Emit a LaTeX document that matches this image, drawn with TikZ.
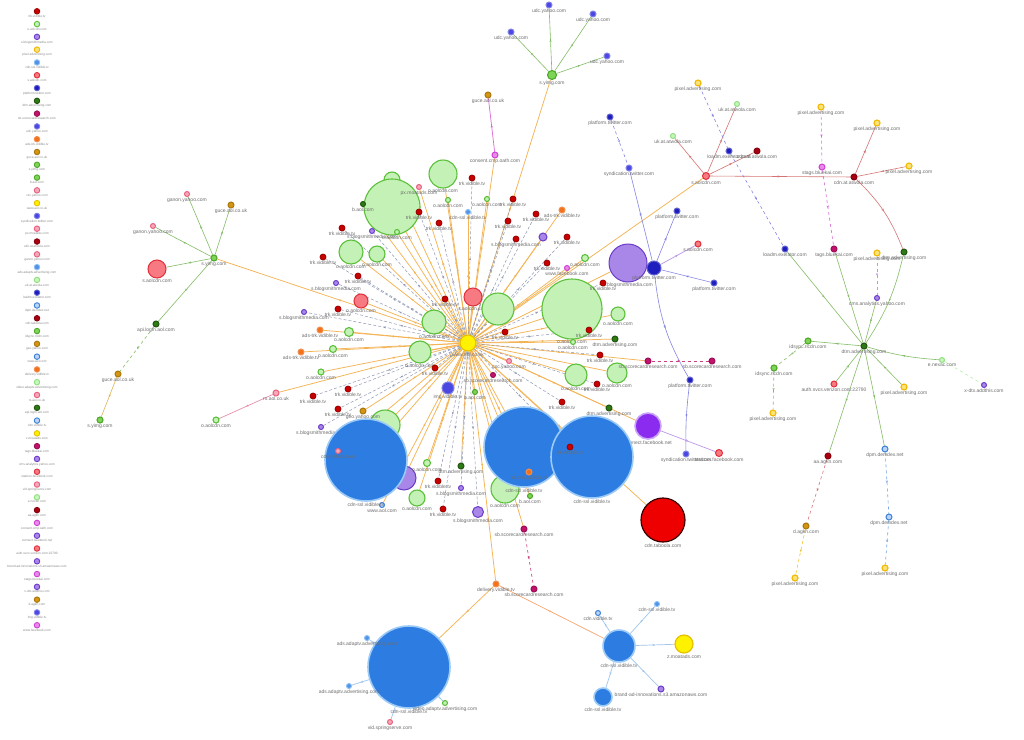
\documentclass[tikz,border=0pt]{standalone}
\usepackage{fontspec}
\setmainfont{Liberation Sans}
\usetikzlibrary{arrows.meta,decorations.markings}
\pgfdeclarelayer{bg}
\pgfdeclarelayer{edges}
\pgfsetlayers{bg,edges,main}
\definecolor{labelgray}{HTML}{6E6E6E}
\definecolor{cTrk}{HTML}{C80000}\definecolor{cTrkD}{HTML}{9A0000}
\definecolor{cGrnF}{HTML}{C4F2B6}\definecolor{cGrnD}{HTML}{5CC03A}
\definecolor{cPurF}{HTML}{A987E8}\definecolor{cPurD}{HTML}{6A3CC8}
\definecolor{cGoldF}{HTML}{FBE27A}\definecolor{cGoldD}{HTML}{F0B800}
\definecolor{cLBF}{HTML}{4F92E6}\definecolor{cLBD}{HTML}{8CC0F5}
\definecolor{cRedF}{HTML}{F77A82}\definecolor{cRedD}{HTML}{E0303C}
\definecolor{cTw}{HTML}{1E1EBE}
\definecolor{cDG}{HTML}{2E7A14}
\definecolor{cCr}{HTML}{C3126B}
\definecolor{cUdc}{HTML}{4A48E0}
\definecolor{cOr}{HTML}{F2711C}
\definecolor{cGuce}{HTML}{D39512}
\definecolor{cYimgF}{HTML}{7ED456}\definecolor{cYimgD}{HTML}{4FA82A}
\definecolor{cPinkF}{HTML}{F6A8B8}\definecolor{cPinkD}{HTML}{E8607E}
\definecolor{cYel}{HTML}{FFF200}\definecolor{cYelD}{HTML}{E6C000}
\definecolor{cVio}{HTML}{8A2BEF}\definecolor{cVioH}{HTML}{C9A6F7}
\definecolor{cTab}{HTML}{EE0000}\definecolor{cTabD}{HTML}{3A0000}
\definecolor{cMagF}{HTML}{E98AEA}\definecolor{cMag}{HTML}{D040D4}
\definecolor{cUkF}{HTML}{C8F5BE}\definecolor{cUk}{HTML}{8EE07E}
\definecolor{cBlue}{HTML}{2C7CE2}\definecolor{cBlueH}{HTML}{9CCAF7}
\definecolor{cDemF}{HTML}{B9D4F6}\definecolor{cDem}{HTML}{3C7FD8}
\definecolor{cAt}{HTML}{A80010}
\definecolor{eOrange}{HTML}{F4B455}
\definecolor{eGreen}{HTML}{84BC66}
\definecolor{eRed}{HTML}{D47474}
\definecolor{eBlue}{HTML}{8484E2}
\definecolor{eGray}{HTML}{8E98B2}
\definecolor{eLB}{HTML}{A0C6F0}
\definecolor{ePink}{HTML}{E890A8}
\definecolor{eVio}{HTML}{BC98E8}
\definecolor{eMag}{HTML}{D868D8}
\definecolor{eCr}{HTML}{C8407E}
\tikzset{
  nb/.style={circle,inner sep=0pt,line width=1pt,minimum size=6pt},
  lbl/.style={font=\fontsize{5}{5}\selectfont,text=labelgray,inner sep=0.6pt},
  lgl/.style={font=\fontsize{3.2}{3.2}\selectfont,text=labelgray!80,inner sep=0.4pt},
  midarr/.style={postaction={decorate},decoration={markings,mark=at position 0.5 with {\arrow{Stealth[length=2.6pt,width=2.2pt]}}}},
  eo/.style={draw=eOrange,line width=0.75pt,midarr},
  eg/.style={draw=eGreen,line width=0.6pt,midarr},
  er/.style={draw=eRed,line width=0.6pt,midarr},
  eb/.style={draw=eBlue,line width=0.6pt,midarr},
  ed/.style={draw=eGray,line width=0.5pt,dash pattern=on 3pt off 2pt,midarr},
  elb/.style={draw=eLB,line width=0.7pt,midarr},
  kTrk/.style={fill=cTrk,draw=cTrkD,line width=0.8pt},
  kGrn/.style={fill=cGrnF,draw=cGrnD,line width=1.1pt},
  kPur/.style={fill=cPurF,draw=cPurD},
  kGold/.style={fill=cGoldF,draw=cGoldD,line width=1.1pt},
  kLB/.style={fill=cLBF,draw=cLBD},
  kRed/.style={fill=cRedF,draw=cRedD},
  kTw/.style={fill=cTw,draw=cTw!70},
  kDG/.style={fill=cDG,draw=cDG!70!black},
  kCr/.style={fill=cCr,draw=cCr!80!black},
  kUdc/.style={fill=cUdc,draw=cUdc!70},
  kOr/.style={fill=cOr,draw=cOr!80},
  kGuce/.style={fill=cGuce,draw=cGuce!80!black},
  kYimg/.style={fill=cYimgF,draw=cYimgD,line width=1.1pt},
  kPink/.style={fill=cPinkF,draw=cPinkD},
  kYel/.style={fill=cYel,draw=cYelD,line width=1.2pt},
  kVio/.style={fill=cVio,draw=cVioH,line width=1.6pt},
  kTab/.style={fill=cTab,draw=cTabD,line width=1.2pt},
  kMag/.style={fill=cMagF,draw=cMag},
  kUk/.style={fill=cUkF,draw=cUk},
  kBig/.style={fill=cBlue,draw=cBlueH,line width=1.6pt},
  kDem/.style={fill=cDemF,draw=cDem},
  kAt/.style={fill=cAt,draw=cAt!80!black},
}
\newcommand\nd[6]{\node[nb,#5,minimum size=#4pt,label={[lbl]below:#6}] (#1) at (#2,#3) {};}
\newcommand\lgd[3]{\node[nb,#2,minimum size=5.5pt,line width=0.9pt,label={[lgl]below:#3}] (lg#1) at (37,{11.3+12.79*#1}) {};}
\begin{document}
\begin{tikzpicture}[x=1pt,y=-1pt]
\begin{pgfonlayer}{bg}
\fill[white] (0,0) rectangle (1024,739);
\end{pgfonlayer}
\useasboundingbox (0,0) rectangle (1024,739);
% ---------------- legend
\lgd{0}{kTrk}{trk.vidible.tv}
\lgd{1}{kGrn}{o.aolcdn.com}
\lgd{2}{kPur}{s.blogsmithmedia.com}
\lgd{3}{kGold}{pixel.advertising.com}
\lgd{4}{kLB}{cdn-ssl.vidible.tv}
\lgd{5}{kRed}{s.aolcdn.com}
\lgd{6}{kTw}{platform.twitter.com}
\lgd{7}{kDG}{dtm.advertising.com}
\lgd{8}{kCr}{sb.scorecardresearch.com}
\lgd{9}{kUdc}{udc.yahoo.com}
\lgd{10}{kOr}{ads-trk.vidible.tv}
\lgd{11}{kGuce}{guce.aol.co.uk}
\lgd{12}{kYimg}{s.yimg.com}
\lgd{13}{kYimg}{b.aol.com}
\lgd{14}{kPink}{csc.yahoo.com}
\lgd{15}{kYel}{www.aol.co.uk}
\lgd{16}{kUdc}{syndication.twitter.com}
\lgd{17}{kPink}{px.moatads.com}
\lgd{18}{kAt}{cdn.at.atwola.com}
\lgd{19}{kPink}{ganon.yahoo.com}
\lgd{20}{kLB}{ads.adaptv.advertising.com}
\lgd{21}{kUk}{uk.at.atwola.com}
\lgd{22}{kTw}{loadm.exelator.com}
\lgd{23}{kDem}{dpm.demdex.net}
\lgd{24}{kAt}{cdn.taboola.com}
\lgd{25}{kYimg}{idsync.rlcdn.com}
\lgd{26}{kGuce}{geo.yahoo.com}
\lgd{27}{kDem}{www.aol.com}
\lgd{28}{kOr}{delivery.vidible.tv}
\lgd{29}{kUk}{video.adaptv.advertising.com}
\lgd{30}{kPink}{rs.aol.co.uk}
\lgd{31}{kDG}{api.login.aol.com}
\lgd{32}{kDem}{cdn.vidible.tv}
\lgd{33}{kYel}{z.moatads.com}
\lgd{34}{kCr}{tags.bluekai.com}
\lgd{35}{kPur}{cms.analytics.yahoo.com}
\lgd{36}{kRed}{staticxx.facebook.com}
\lgd{37}{kPink}{vid.springserve.com}
\lgd{38}{kUk}{e.nexac.com}
\lgd{39}{kAt}{aa.agkn.com}
\lgd{40}{kMag}{consent.cmp.oath.com}
\lgd{41}{kPur}{connect.facebook.net}
\lgd{42}{kRed}{auth.svcs.verizon.com:22790}
\lgd{43}{kPur}{brand-ad-innovations.s3.amazonaws.com}
\lgd{44}{kMag}{stags.bluekai.com}
\lgd{45}{kPur}{x-dtx.addthis.com}
\lgd{46}{kGuce}{d.agkn.com}
\lgd{47}{kUdc}{img.vidible.tv}
\lgd{48}{kMag}{www.facebook.com}
% ---------------- nodes behind
\nd{gA}{392}{180}{16}{kGrn}{}
\nd{gBehind}{385}{425}{30}{kGrn}{}
\nd{puBehind}{404}{478}{24}{kPur}{}
\nd{g21}{505}{489}{28}{kGrn}{o.aolcdn.com}
% ---------------- hub cluster
\nd{gB}{392}{207}{56}{kGrn}{}
\nd{bdot}{363}{204}{5}{kDG}{b.aol.com}
\nd{gC}{443}{174}{28}{kGrn}{o.aolcdn.com}
\nd{pk1}{419}{187}{5}{kPink}{px.moatads.com}
\nd{r1}{472}{178}{6}{kTrk}{trk.vidible.tv}
\nd{g2}{448}{200}{5}{kGrn}{o.aolcdn.com}
\nd{g3}{487}{199}{5}{kGrn}{o.aolcdn.com}
\nd{r2}{513}{199}{6}{kTrk}{trk.vidible.tv}
\nd{bl1}{468}{212}{5}{kLB}{cdn-ssl.vidible.tv}
\nd{r3}{419}{212}{6}{kTrk}{trk.vidible.tv}
\nd{r4}{439}{223}{6}{kTrk}{trk.vidible.tv}
\nd{r5}{536}{214}{6}{kTrk}{trk.vidible.tv}
\nd{or1}{562}{210}{6}{kOr}{ads-trk.vidible.tv}
\nd{r6}{508}{221}{6}{kTrk}{trk.vidible.tv}
\nd{r7}{342}{228}{6}{kTrk}{trk.vidible.tv}
\nd{pu1}{372}{231}{5}{kPur}{s.blogsmithmedia.com}
\nd{g4}{397}{232}{5}{kGrn}{o.aolcdn.com}
\nd{g5}{351}{252}{24}{kGrn}{o.aolcdn.com}
\nd{g6}{377}{254}{16}{kGrn}{o.aolcdn.com}
\nd{r8}{516}{239}{6}{kTrk}{s.blogsmithmedia.com}
\nd{pu2}{543}{237}{8}{kPur}{}
\nd{r9}{567}{237}{6}{kTrk}{trk.vidible.tv}
\nd{g7}{585}{258}{7}{kGrn}{o.aolcdn.com}
\nd{r10}{323}{257}{6}{kTrk}{trk.vidible.tv}
\nd{r11}{547}{263}{6}{kTrk}{trk.vidible.tv}
\nd{mg1}{567}{268}{5}{kMag}{www.facebook.com}
\nd{puB}{628}{263}{38}{kPur}{s.blogsmithmedia.com}
\nd{r12}{358}{276}{6}{kTrk}{trk.vidible.tv}
\nd{pu3}{336}{283}{5}{kPur}{s.blogsmithmedia.com}
\nd{rB1}{361}{301}{14}{kRed}{o.aolcdn.com}
\nd{rB2}{473}{297}{18}{kRed}{s.aolcdn.com}
\nd{g8}{498}{309}{32}{kGrn}{}
\nd{gBig2}{572}{309}{60}{kGrn}{o.aolcdn.com}
\nd{r13}{445}{299}{6}{kTrk}{trk.vidible.tv}
\nd{r14}{338}{309}{6}{kTrk}{trk.vidible.tv}
\nd{pu4}{304}{312}{5}{kPur}{s.blogsmithmedia.com}
\nd{g9}{434}{322}{24}{kGrn}{o.aolcdn.com}
\nd{r15}{603}{283}{6}{kTrk}{trk.vidible.tv}
\nd{g10}{618}{314}{14}{kGrn}{o.aolcdn.com}
\nd{r16}{589}{330}{6}{kTrk}{trk.vidible.tv}
\nd{g11}{573}{342}{5}{kGrn}{o.aolcdn.com}
\nd{dg1}{615}{339}{6}{kDG}{dtm.advertising.com}
\nd{r17}{505}{332}{6}{kTrk}{trk.vidible.tv}
\nd{g12}{349}{332}{9}{kGrn}{o.aolcdn.com}
\nd{or2}{320}{330}{6}{kOr}{ads-trk.vidible.tv}
\nd{g13}{420}{352}{22}{kGrn}{o.aolcdn.com}
\nd{g14}{333}{349}{7}{kGrn}{o.aolcdn.com}
\nd{or3}{301}{352}{6}{kOr}{ads-trk.vidible.tv}
\nd{pk2}{509}{361}{5}{kPink}{csc.yahoo.com}
\nd{r18}{435}{368}{6}{kTrk}{trk.vidible.tv}
\nd{r19}{600}{355}{6}{kTrk}{trk.vidible.tv}
\nd{g15}{576}{375}{22}{kGrn}{o.aolcdn.com}
\nd{g16}{617}{373}{20}{kGrn}{o.aolcdn.com}
\nd{g17}{321}{372}{6}{kGrn}{o.aolcdn.com}
\nd{cr1}{493}{375}{5}{kCr}{sb.scorecardresearch.com}
\nd{r20}{348}{389}{6}{kTrk}{trk.vidible.tv}
\nd{r21}{313}{396}{6}{kTrk}{trk.vidible.tv}
\nd{bv1}{448}{388}{12}{kUdc}{img.vidible.tv}
\nd{g18}{475}{392}{5}{kYimg}{b.aol.com}
\nd{r22}{597}{384}{6}{kTrk}{trk.vidible.tv}
\nd{r23}{338}{409}{6}{kTrk}{trk.vidible.tv}
\nd{gd1}{363}{411}{6}{kGuce}{geo.yahoo.com}
\nd{pu5}{321}{427}{5}{kPur}{s.blogsmithmedia.com}
\nd{r24}{562}{402}{6}{kTrk}{trk.vidible.tv}
\nd{dg2}{609}{408}{6}{kDG}{dtm.advertising.com}
\nd{vi1}{648}{426}{26}{kVio}{connect.facebook.net}
\nd{g19}{427}{463}{7}{kGrn}{o.aolcdn.com}
\nd{dg3}{461}{466}{6}{kDG}{dtm.advertising.com}
\nd{r26}{438}{481}{6}{kTrk}{trk.vidible.tv}
\nd{pu6}{461}{488}{5}{kPur}{s.blogsmithmedia.com}
\nd{g20}{417}{498}{16}{kGrn}{o.aolcdn.com}
\nd{bl2}{382}{505}{5}{kDem}{www.aol.com}
\nd{r27}{443}{509}{6}{kTrk}{trk.vidible.tv}
\nd{pu7}{478}{512}{11}{kPur}{s.blogsmithmedia.com}
\nd{g22}{530}{496}{5}{kYimg}{b.aol.com}
\nd{cr2}{524}{529}{6}{kCr}{sb.scorecardresearch.com}
\nd{tab}{663}{520}{44}{kTab}{cdn.taboola.com}
\nd{cr3}{648}{361}{6}{kCr}{sb.scorecardresearch.com}
\nd{cr4}{712}{361}{6}{kCr}{sb.scorecardresearch.com}
\nd{tw1}{690}{380}{6}{kTw}{platform.twitter.com}
\nd{tw2}{686}{454}{6}{kUdc}{syndication.twitter.com}
\nd{fbx}{719}{453}{7}{kRed}{staticxx.facebook.com}
% big blue circles
\nd{bB1}{366}{460}{82}{kBig}{cdn-ssl.vidible.tv}
\nd{bB2}{524}{447}{80}{kBig}{cdn-ssl.vidible.tv}
\nd{bB3}{592}{457}{82}{kBig}{cdn-ssl.vidible.tv}
\nd{pk3}{338}{451}{5}{kPink}{cdn.yahoo.com}
\nd{r25}{570}{447}{6}{kTrk}{trk.vidible.tv}
\nd{or4}{529}{472}{6}{kOr}{ads-trk.vidible.tv}
% ---------------- top
\nd{ym1}{552}{75}{9}{kYimg}{s.yimg.com}
\nd{udc1}{549}{5}{6}{kUdc}{udc.yahoo.com}
\nd{udc2}{593}{14}{6}{kUdc}{udc.yahoo.com}
\nd{udc3}{511}{32}{6}{kUdc}{udc.yahoo.com}
\nd{udc4}{607}{56}{6}{kUdc}{udc.yahoo.com}
\nd{guce1}{488}{95}{6}{kGuce}{guce.aol.co.uk}
\nd{cons}{495}{155}{6}{kMag}{consent.cmp.oath.com}
% ---------------- twitter
\nd{tw3}{610}{117}{6}{kTw}{platform.twitter.com}
\nd{tw4}{629}{168}{6}{kUdc}{syndication.twitter.com}
\nd{twB}{654}{268}{14}{kTw}{platform.twitter.com}
\nd{tw5}{677}{211}{6}{kTw}{platform.twitter.com}
\nd{sa1}{698}{244}{6}{kRed}{s.aolcdn.com}
\nd{tw6}{714}{283}{6}{kTw}{platform.twitter.com}
% ---------------- right
\nd{px1}{698}{83}{6}{kGold}{pixel.advertising.com}
\nd{uk1}{737}{104}{5}{kUk}{uk.at.atwola.com}
\nd{uk2}{673}{136}{5}{kUk}{uk.at.atwola.com}
\nd{ex1}{729}{151}{6}{kTw}{loadm.exelator.com}
\nd{at1}{757}{151}{6}{kAt}{cdn.at.atwola.com}
\nd{sa2}{706}{176}{7}{kRed}{s.aolcdn.com}
\nd{px2}{821}{107}{6}{kGold}{pixel.advertising.com}
\nd{px3}{877}{123}{6}{kGold}{pixel.advertising.com}
\nd{stg}{822}{167}{6}{kMag}{stags.bluekai.com}
\nd{at2}{854}{177}{6}{kAt}{cdn.at.atwola.com}
\nd{px4}{909}{166}{6}{kGold}{pixel.advertising.com}
\nd{ex2}{785}{249}{6}{kTw}{loadm.exelator.com}
\nd{tgb}{834}{249}{6}{kCr}{tags.bluekai.com}
\nd{px5}{877}{253}{6}{kGold}{pixel.advertising.com}
\nd{dg4}{904}{252}{6}{kDG}{dtm.advertising.com}
\nd{cms}{877}{298}{5}{kPur}{cms.analytics.yahoo.com}
\nd{dtm}{864}{346}{6}{kDG}{dtm.advertising.com}
\nd{ids1}{808}{341}{6}{kYimg}{idsync.rlcdn.com}
\nd{ids2}{774}{368}{6}{kYimg}{idsync.rlcdn.com}
\nd{px6}{773}{413}{6}{kGold}{pixel.advertising.com}
\nd{auth}{834}{384}{6}{kRed}{auth.svcs.verizon.com:22790}
\nd{px7}{904}{387}{6}{kGold}{pixel.advertising.com}
\nd{nex}{942}{360}{5}{kUk}{e.nexac.com}
\nd{dtx}{984}{385}{5}{kPur}{x-dtx.addthis.com}
\nd{agkn}{828}{456}{6}{kAt}{aa.agkn.com}
\nd{dem1}{885}{449}{6}{kDem}{dpm.demdex.net}
\nd{dagk}{806}{526}{6}{kGuce}{d.agkn.com}
\nd{dem2}{889}{517}{6}{kDem}{dpm.demdex.net}
\nd{px8}{795}{578}{6}{kGold}{pixel.advertising.com}
\nd{px9}{885}{568}{6}{kGold}{pixel.advertising.com}
% ---------------- left
\nd{ym2}{214}{258}{6}{kYimg}{s.yimg.com}
\nd{gan1}{187}{194}{5}{kPink}{ganon.yahoo.com}
\nd{guce2}{231}{205}{6}{kGuce}{guce.aol.co.uk}
\nd{gan2}{153}{226}{5}{kPink}{ganon.yahoo.com}
\nd{saB}{157}{269}{18}{kRed}{s.aolcdn.com}
\nd{api}{156}{324}{6}{kDG}{api.login.aol.com}
\nd{guce3}{118}{374}{6}{kGuce}{guce.aol.co.uk}
\nd{ym3}{100}{420}{6}{kYimg}{s.yimg.com}
\nd{rs}{276}{393}{6}{kPink}{rs.aol.co.uk}
\nd{g23}{216}{420}{6}{kGrn}{o.aolcdn.com}
% ---------------- bottom
\nd{del}{496}{584}{6}{kOr}{delivery.vidible.tv}
\nd{cr5}{534}{589}{6}{kCr}{sb.scorecardresearch.com}
\nd{bB4}{409}{667}{82}{kBig}{cdn-ssl.vidible.tv}
\nd{ad1}{367}{638}{5}{kLB}{ads.adaptv.advertising.com}
\nd{ad2}{349}{686}{5}{kLB}{ads.adaptv.advertising.com}
\nd{vad}{445}{703}{5}{kGrn}{video.adaptv.advertising.com}
\nd{spr}{390}{722}{5}{kPink}{vid.springserve.com}
\nd{bB5}{619}{646}{32}{kBig}{cdn-ssl.vidible.tv}
\nd{cv1}{598}{613}{5}{kDem}{cdn.vidible.tv}
\nd{cv2}{657}{604}{5}{kLB}{cdn-ssl.vidible.tv}
\nd{moat}{684}{644}{18}{kYel}{z.moatads.com}
\nd{brand}{661}{689}{6}{kPur}{brand-ad-innovations.s3.amazonaws.com}
\nd{bB6}{603}{697}{18}{kBig}{cdn-ssl.vidible.tv}
% hub
\nd{hub}{468}{343}{16}{kYel}{www.aol.co.uk}
% ---------------- edges
\begin{pgfonlayer}{edges}
\foreach \n in {gB,gC,pk1,g2,g3,bl1,or1,g4,g5,g6,pu2,g7,mg1,puB,rB1,rB2,g8,gBig2,g9,g10,g11,dg1,g12,or2,g13,g14,or3,pk2,g15,g16,g17,cr1,bv1,g18,gd1,dg2,bB1,bB2,bB3,vi1,g19,dg3,g20,bl2,g21,g22,cr2,tab,cr3,ym1,cons,sa2,ym2,rs,del,bdot,gA,gBehind,puBehind,or4,pk3}
  \draw[eo] (hub) -- (\n);
\foreach \n in {r1,r2,r3,r4,r5,r6,r7,r8,r9,r10,r11,r12,r13,r14,r15,r16,r17,r18,r19,r20,r21,r22,r23,r24,r25,r26,r27,pu1,pu3,pu4,pu5,pu6,pu7}
  \draw[ed] (hub) -- (\n);
% top
\foreach \n in {udc1,udc2,udc3,udc4} \draw[eg] (ym1) -- (\n);
\draw[draw=eMag,line width=0.7pt,midarr] (cons) -- (guce1);
% twitter
\draw[eb,dashed] (tw3) -- (tw4);
\draw[eb] (tw4) -- (twB);
\draw[eb] (twB) to[bend right=12] (tw1);
\draw[eb] (tw1) to[bend right=4] (tw2);
\draw[eb] (twB) -- (tw5);
\draw[draw=eVio,line width=0.7pt,midarr] (twB) -- (sa1);
\draw[eb] (tw6) -- (twB);
\draw[draw=eVio,line width=0.7pt,midarr] (vi1) -- (fbx);
\draw[draw=eCr,line width=0.6pt,dashed,midarr] (cr3) -- (cr4);
% right
\draw[er] (sa2) -- (uk1);
\draw[er] (sa2) -- (uk2);
\draw[er] (sa2) -- (at1);
\draw[er] (sa2) -- (at2);
\draw[er] (at2) -- (px3);
\draw[er] (px4) -- (at2);
\draw[er] (at2) to[bend left=12] (dg4);
\draw[eb,dashed] (px1) -- (ex1);
\draw[eb,dashed] (ex1) -- (ex2);
\draw[draw=eMag,line width=0.6pt,dashed,midarr] (px2) -- (stg);
\draw[draw=eMag,line width=0.6pt,dashed,midarr] (stg) -- (tgb);
\draw[eg] (ex2) -- (dtm);
\draw[eg] (tgb) -- (dtm);
\draw[draw=eVio,line width=0.6pt,dashed,midarr] (px5) -- (cms);
\draw[eg] (cms) -- (dtm);
\draw[eg] (dg4) to[bend left=10] (dtm);
\draw[eg] (dtm) -- (ids1);
\draw[eg] (nex) to[bend left=6] (dtm);
\draw[eg] (auth) -- (dtm);
\draw[eg] (px7) -- (dtm);
\draw[eg] (dtm) -- (agkn);
\draw[eg] (dtm) -- (dem1);
\draw[eg,dashed] (ids1) -- (ids2);
\draw[eg,dashed] (ids2) -- (px6);
\draw[draw=cUkF!70!cUk,line width=0.6pt,dashed] (nex) -- (dtx);
\draw[er,dashed] (agkn) -- (dagk);
\draw[draw=cGoldD!80,line width=0.6pt,dashed,midarr] (dagk) -- (px8);
\draw[draw=cDem!70,line width=0.6pt,dashed,midarr] (dem1) -- (dem2);
\draw[draw=cDem!70,line width=0.6pt,dashed,midarr] (dem2) -- (px9);
% left
\foreach \n in {gan1,guce2,gan2,saB,api} \draw[eg] (ym2) -- (\n);
\draw[eg,dashed] (api) -- (guce3);
\draw[draw=cGuce!70,line width=0.6pt,midarr] (guce3) -- (ym3);
\draw[draw=ePink,line width=0.7pt,midarr] (rs) -- (g23);
% bottom
\draw[draw=eCr,line width=0.6pt,dashed,midarr] (cr2) -- (cr5);
\draw[eo] (del) -- (bB4);
\draw[eo,draw=cOr!60] (del) -- (bB5);
\foreach \n in {ad1,ad2,vad,spr} \draw[elb] (bB4) -- (\n);
\foreach \n in {cv1,cv2,moat,brand,bB6} \draw[elb] (bB5) -- (\n);
\end{pgfonlayer}
\end{tikzpicture}
\end{document}
